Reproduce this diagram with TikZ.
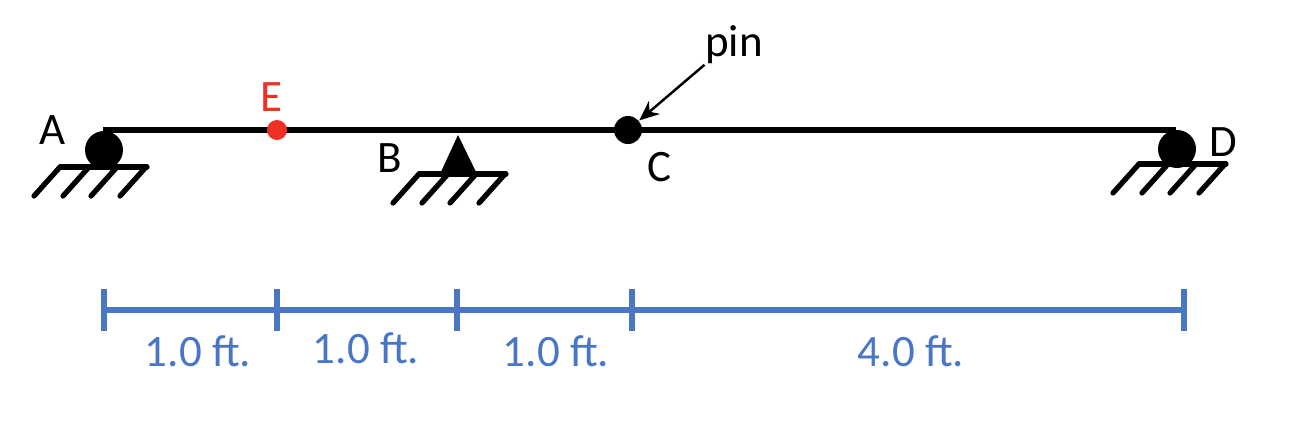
\documentclass[tikz,border=0pt]{standalone}
\usepackage{fontspec}
\setmainfont{Carlito}
\usetikzlibrary{arrows.meta}
\definecolor{dimblue}{HTML}{4A76C6}
\definecolor{pointred}{HTML}{EE3124}
\tikzset{
    beamline/.style = {line width = 1.6pt},
    groundline/.style = {line width = 1.5pt, line cap = round},
    dimline/.style = {line width = 1.6pt, color = dimblue},
    hinge/.style = {circle, fill = black, inner sep = 0pt},
    lbl/.style = {inner sep = 0pt, font = \fontsize{12.8pt}{15pt}\selectfont},
    dimlbl/.style = {lbl, text = dimblue}
}
% ground symbol, #1 = left end of the top line
\newcommand{\groundsym}[1]{
    \begin{scope}[shift = {#1}]
        \draw[groundline] (0,0) -- (0.87,0);
        \foreach \x in {0, 0.29, 0.57, 0.86} {
            \draw[groundline] (\x,0) -- (\x-0.26,-0.29);
        }
    \end{scope}
}
\begin{document}
\begin{tikzpicture}
    \useasboundingbox (0,0) rectangle (12.96,4.32);

    % supports
    \node[hinge, minimum size = 0.38cm] (rollerA) at (1.04,2.82) {};
    \node[hinge, minimum size = 0.38cm] (rollerD) at (11.77,2.83) {};
    \fill (4.58,2.97) -- (4.77,2.58) -- (4.40,2.58) -- cycle;
    \groundsym{(0.60,2.65)}
    \groundsym{(4.19,2.58)}
    \groundsym{(11.39,2.68)}

    % beam
    \coordinate (beamA) at (1.03,3.02);
    \coordinate (beamD) at (11.76,3.02);
    \draw[beamline] (beamA) -- (beamD);
    \node[hinge, fill = pointred, minimum size = 0.20cm] (ptE) at (2.77,3.02) {};
    \node[hinge, minimum size = 0.28cm] (pinC) at (6.28,3.02) {};

    % labels
    \node[lbl] (lblA) at (0.53,3.02) {A};
    \node[lbl, text = pointred] (lblE) at (2.71,3.35) {E};
    \node[lbl] (lblB) at (3.90,2.74) {B};
    \node[lbl] (lblC) at (6.59,2.65) {C};
    \node[lbl] (lblD) at (12.23,2.90) {D};
    \node[lbl] (lblpin) at (7.34,3.87) {pin};
    \draw[-{Stealth[length = 0.2cm, width = 0.17cm]}, line width = 0.7pt] (lblpin.south west) -- (pinC);

    % dimensions
    \coordinate (dimA) at (1.04,1.22);
    \coordinate (dimE) at (2.77,1.22);
    \coordinate (dimB) at (4.57,1.22);
    \coordinate (dimC) at (6.32,1.22);
    \coordinate (dimD) at (11.84,1.22);
    \draw[dimline] (dimA) -- (dimD);
    \foreach \t in {dimA, dimE, dimB, dimC, dimD} {
        \draw[dimline] ([yshift = 0.21cm]\t) -- ([yshift = -0.21cm]\t);
    }
    \node[dimlbl] (lenAE) at (1.98,0.81) {1.0 ft.};
    \node[dimlbl] (lenEB) at (3.66,0.84) {1.0 ft.};
    \node[dimlbl] (lenBC) at (5.56,0.81) {1.0 ft.};
    \node[dimlbl] (lenCD) at (9.11,0.81) {4.0 ft.};
\end{tikzpicture}
\end{document}
